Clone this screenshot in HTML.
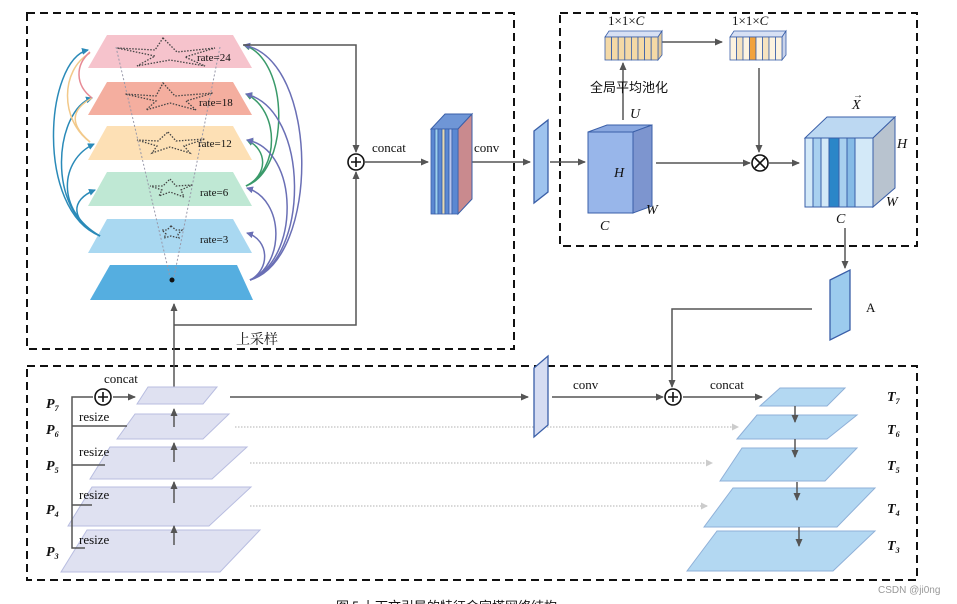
<!DOCTYPE html>
<html><head><meta charset="utf-8"><style>
html,body{margin:0;padding:0;background:#fff;}
svg{display:block;}
text{font-family:"Liberation Serif","Noto Serif CJK SC",serif;fill:#111;}
text.wm{font-family:"Liberation Sans",sans-serif;fill:#999;}
</style></head><body>
<svg width="957" height="604" viewBox="0 0 957 604" xmlns="http://www.w3.org/2000/svg">
<defs>
<marker id="ar" markerWidth="8" markerHeight="8" refX="7" refY="4" orient="auto" markerUnits="userSpaceOnUse"><path d="M0,0.5 L8,4 L0,7.5 z" fill="#555"/></marker>
<marker id="at" markerWidth="7" markerHeight="7" refX="6" refY="3.5" orient="auto" markerUnits="userSpaceOnUse"><path d="M0,0 L7,3.5 L0,7 z" fill="#2a8ab8"/></marker>
<marker id="ap" markerWidth="7" markerHeight="7" refX="6" refY="3.5" orient="auto" markerUnits="userSpaceOnUse"><path d="M0,0 L7,3.5 L0,7 z" fill="#6a6fb5"/></marker>
<marker id="ag" markerWidth="7" markerHeight="7" refX="6" refY="3.5" orient="auto" markerUnits="userSpaceOnUse"><path d="M0,0 L7,3.5 L0,7 z" fill="#3a9a6a"/></marker>
<marker id="ad" markerWidth="7" markerHeight="7" refX="6" refY="3.5" orient="auto" markerUnits="userSpaceOnUse"><path d="M0,0 L7,3.5 L0,7 z" fill="#ccc"/></marker>
</defs>
<g fill="none" stroke="#111" stroke-width="2" stroke-dasharray="8,5">
<rect x="27" y="13" width="487" height="336"/>
<rect x="560" y="13" width="357" height="233"/>
<rect x="27" y="366" width="890" height="214"/>
</g>

<polygon points="107,35 233,35 252,68 88,68" fill="#f6c3cc"/>
<polygon points="107,82 233,82 252,115 88,115" fill="#f4ae9f"/>
<polygon points="107,126 233,126 252,160 88,160" fill="#fde0b5"/>
<polygon points="107,172 233,172 252,206 88,206" fill="#bfe8d4"/>
<polygon points="107,219 233,219 252,253 88,253" fill="#a9d8f1"/>
<polygon points="110,265 237,265 253,300 90,300" fill="#55aee0"/>
<g stroke="#99a" stroke-width="1" stroke-dasharray="2,2" fill="none">
<line x1="116" y1="47" x2="170" y2="277"/><line x1="220" y1="47" x2="174" y2="277"/>
</g>
<g stroke="#444" stroke-width="1.3" stroke-dasharray="1.5,1.5" fill="none">
<polygon points="163,38 177,52 215,48 185,57 205,66 170,60 137,66 155,56 117,48 155,50"/>
<polygon points="163,83 175,96 213,93 186,101 196,110 170,103 146,110 156,101 125,94 156,96"/>
<polygon points="168,132 176,141 205,139 184,146 190,153 170,147 152,153 157,146 137,140 158,141"/>
<polygon points="170,179 176,186 192,185 181,190 184,197 170,192 159,196 162,190 150,186 163,186"/>
<polygon points="171,226 176,230 182,230 178,234 179,238 171,236 164,238 166,234 162,230 167,230"/>
</g>
<circle cx="172" cy="280" r="2.5" fill="#111"/>
<g font-size="11">
<text x="197" y="61">rate=24</text><text x="199" y="106">rate=18</text>
<text x="198" y="147">rate=12</text><text x="200" y="196">rate=6</text><text x="200" y="243">rate=3</text>
</g>
<g fill="none" stroke-width="1.5">
<path d="M100,236 C35,210 45,60 88,50" stroke="#2a8ab8" marker-end="url(#at)"/>
<path d="M100,236 C45,210 55,110 92,98" stroke="#2a8ab8" marker-end="url(#at)"/>
<path d="M100,236 C55,210 60,160 94,144" stroke="#2a8ab8" marker-end="url(#at)"/>
<path d="M100,236 C70,220 70,200 95,190" stroke="#2a8ab8" marker-end="url(#at)"/>
<path d="M90,142 C60,120 60,70 90,53" stroke="#f2c98a"/>
<path d="M90,142 C70,125 70,110 92,98" stroke="#f2c98a"/>
<path d="M92,98 C75,85 75,65 90,52" stroke="#e78a95"/>
<path d="M246,186 C290,170 290,60 244,45" stroke="#3a9a6a" marker-end="url(#ag)"/>
<path d="M246,186 C280,170 280,110 246,94" stroke="#3a9a6a" marker-end="url(#ag)"/>
<path d="M246,186 C268,175 268,150 247,140" stroke="#3a9a6a" marker-end="url(#ag)"/>
<path d="M250,280 C320,260 320,60 244,45" stroke="#6a6fb5" marker-end="url(#ap)"/>
<path d="M250,280 C310,260 310,110 246,94" stroke="#6a6fb5" marker-end="url(#ap)"/>
<path d="M250,280 C300,260 300,150 247,140" stroke="#6a6fb5" marker-end="url(#ap)"/>
<path d="M250,280 C285,265 285,200 247,188" stroke="#6a6fb5" marker-end="url(#ap)"/>
<path d="M250,280 C270,270 270,240 247,233" stroke="#6a6fb5" marker-end="url(#ap)"/>
</g>

<g stroke="#555" stroke-width="1.5" fill="none">
<line x1="174" y1="395" x2="174" y2="304" marker-end="url(#ar)"/>
<polyline points="174,325 356,325 356,172" marker-end="url(#ar)"/>
<polyline points="243,45 356,45 356,152" marker-end="url(#ar)"/>
<line x1="365" y1="162" x2="428" y2="162" marker-end="url(#ar)"/>
<line x1="472" y1="162" x2="530" y2="162" marker-end="url(#ar)"/>
<line x1="550" y1="162" x2="585" y2="162" marker-end="url(#ar)"/>
</g>
<circle cx="356" cy="162" r="8" fill="#fff" stroke="#111" stroke-width="1.6"/>
<path d="M351,162 h10 M356,157 v10" stroke="#111" stroke-width="1.6"/>
<text x="372" y="152" font-size="13">concat</text>
<text x="474" y="152" font-size="13">conv</text>
<text x="236" y="344" font-size="14">上采样</text>
<polygon points="431,129 445,114 472,114 458,129" fill="#6f96d6" stroke="#3a5fa8"/>
<polygon points="458,129 472,114 472,199 458,214" fill="#c98a8e" stroke="#3a5fa8"/>
<g stroke="#3a5fa8" stroke-width="0.8">
<rect x="431" y="129" width="4" height="85" fill="#5b88d2"/><rect x="435" y="129" width="3" height="85" fill="#9cd0ee"/>
<rect x="438" y="129" width="4" height="85" fill="#5b88d2"/><rect x="442" y="129" width="3" height="85" fill="#e6d9b0"/>
<rect x="445" y="129" width="4" height="85" fill="#5b88d2"/><rect x="449" y="129" width="3" height="85" fill="#b7c6ee"/>
<rect x="452" y="129" width="6" height="85" fill="#5b88d2"/>
</g>
<polygon points="534,131 548,120 548,192 534,203" fill="#9ec3ee" stroke="#3a5fa8" stroke-width="1.3"/>

<polygon points="588,132 607,125 652,125 633,132" fill="#8aa8e0" stroke="#3a5fa8"/>
<polygon points="633,132 652,125 652,206 633,213" fill="#7d95cf" stroke="#3a5fa8"/>
<rect x="588" y="132" width="45" height="81" fill="#98b6ea" stroke="#3a5fa8"/>
<g font-style="italic" font-size="14">
<text x="614" y="177">H</text><text x="646" y="214">W</text><text x="600" y="230">C</text><text x="630" y="118">U</text>
<text x="897" y="148">H</text><text x="886" y="206">W</text><text x="836" y="223">C</text><text x="852" y="109">X</text>
</g>
<text x="853" y="98" font-size="10">→</text>
<g stroke="#555" stroke-width="1.5" fill="none">
<line x1="623" y1="120" x2="623" y2="63" marker-end="url(#ar)"/>
<line x1="659" y1="42" x2="722" y2="42" marker-end="url(#ar)"/>
<line x1="759" y1="68" x2="759" y2="152" marker-end="url(#ar)"/>
<line x1="656" y1="163" x2="750" y2="163" marker-end="url(#ar)"/>
<line x1="769" y1="163" x2="799" y2="163" marker-end="url(#ar)"/>
<line x1="845" y1="228" x2="845" y2="268" marker-end="url(#ar)"/>
<polyline points="812,309 672,309 672,387" marker-end="url(#ar)"/>
</g>
<circle cx="760" cy="163" r="8" fill="#fff" stroke="#111" stroke-width="1.6"/>
<path d="M755,158 l10,10 M765,158 l-10,10" stroke="#111" stroke-width="1.6"/>
<text x="608" y="25" font-size="13">1×1×<tspan font-style="italic">C</tspan></text>
<text x="732" y="25" font-size="13">1×1×<tspan font-style="italic">C</tspan></text>
<text x="590" y="92" font-size="13" style="font-family:'Noto Sans CJK SC',sans-serif">全局平均池化</text>
<polygon points="605,37 609,31 662,31 658,37" fill="#d7e0f4" stroke="#3a5fa8" stroke-width="0.8"/>
<polygon points="658,37 662,31 662,55 658,60" fill="#e2c89a" stroke="#3a5fa8" stroke-width="0.8"/>
<g stroke="#3a5fa8" stroke-width="0.8" fill="#f4d9a6">
<rect x="605" y="37" width="6.6" height="23"/><rect x="611.6" y="37" width="6.6" height="23"/><rect x="618.2" y="37" width="6.6" height="23"/><rect x="624.8" y="37" width="6.6" height="23"/><rect x="631.4" y="37" width="6.6" height="23"/><rect x="638" y="37" width="6.6" height="23"/><rect x="644.6" y="37" width="6.6" height="23"/><rect x="651.2" y="37" width="6.8" height="23"/>
</g>
<polygon points="730,37 734,31 786,31 782,37" fill="#d7e0f4" stroke="#3a5fa8" stroke-width="0.8"/>
<polygon points="782,37 786,31 786,55 782,60" fill="#c9d3ea" stroke="#3a5fa8" stroke-width="0.8"/>
<g stroke="#3a5fa8" stroke-width="0.8">
<rect x="730" y="37" width="6.5" height="23" fill="#fdf3e0"/><rect x="736.5" y="37" width="6.5" height="23" fill="#f6e3c0"/><rect x="743" y="37" width="6.5" height="23" fill="#fdf3e0"/><rect x="749.5" y="37" width="6.5" height="23" fill="#f2a23a"/><rect x="756" y="37" width="6.5" height="23" fill="#fdf3e0"/><rect x="762.5" y="37" width="6.5" height="23" fill="#f6e3c0"/><rect x="769" y="37" width="6.5" height="23" fill="#fdf3e0"/><rect x="775.5" y="37" width="6.5" height="23" fill="#fdf3e0"/>
</g>
<polygon points="805,138 827,117 895,117 873,138" fill="#bcd8f2" stroke="#3a5fa8"/>
<polygon points="873,138 895,117 895,188 873,207" fill="#b8c3cf" stroke="#3a5fa8"/>
<g stroke="#3a5fa8" stroke-width="1">
<rect x="805" y="138" width="8" height="69" fill="#d3e9f8"/><rect x="813" y="138" width="8" height="69" fill="#a8d0ef"/>
<rect x="821" y="138" width="8" height="69" fill="#d3e9f8"/><rect x="829" y="138" width="10" height="69" fill="#2b86c8"/>
<rect x="839" y="138" width="8" height="69" fill="#a8d0ef"/><rect x="847" y="138" width="8" height="69" fill="#86bbe6"/>
<rect x="855" y="138" width="18" height="69" fill="#d3e9f8"/>
</g>
<polygon points="830,280 850,270 850,330 830,340" fill="#9ccbee" stroke="#3a5fa8" stroke-width="1.3"/>
<text x="866" y="312" font-size="13">A</text>

<g fill="#dfe1f1" stroke="#b8bde0" stroke-width="1">
<polygon points="61,572 87,530 260,530 220,572"/>
<polygon points="68,526 92,487 251,487 209,526"/>
<polygon points="90,479 110,447 247,447 212,479"/>
<polygon points="117,439 135,414 229,414 203,439"/>
<polygon points="137,404 148,387 217,387 203,404"/>
</g>
<g fill="#b3d8f2" stroke="#8fb0d8" stroke-width="1">
<polygon points="687,571 717,531 875,531 833,571"/>
<polygon points="704,527 733,488 875,488 837,527"/>
<polygon points="720,481 742,448 857,448 825,481"/>
<polygon points="737,439 757,415 857,415 827,439"/>
<polygon points="760,406 780,388 845,388 827,406"/>
</g>
<g stroke="#555" stroke-width="1.5" fill="none">
<polyline points="85,548 72,548 72,397 93,397"/>
<line x1="72" y1="426" x2="127" y2="426"/><line x1="72" y1="465" x2="105" y2="465"/><line x1="72" y1="505" x2="92" y2="505"/>
<line x1="113" y1="397" x2="135" y2="397" marker-end="url(#ar)"/>
<line x1="174" y1="545" x2="174" y2="526" marker-end="url(#ar)"/>
<line x1="174" y1="503" x2="174" y2="482" marker-end="url(#ar)"/>
<line x1="174" y1="462" x2="174" y2="443" marker-end="url(#ar)"/>
<line x1="174" y1="427" x2="174" y2="409" marker-end="url(#ar)"/>
<line x1="230" y1="397" x2="528" y2="397" marker-end="url(#ar)"/>
<line x1="552" y1="397" x2="663" y2="397" marker-end="url(#ar)"/>
<line x1="683" y1="397" x2="762" y2="397" marker-end="url(#ar)"/>
<line x1="795" y1="406" x2="795" y2="422" marker-end="url(#ar)"/>
<line x1="795" y1="439" x2="795" y2="457" marker-end="url(#ar)"/>
<line x1="797" y1="482" x2="797" y2="500" marker-end="url(#ar)"/>
<line x1="799" y1="527" x2="799" y2="546" marker-end="url(#ar)"/>
</g>
<g stroke="#ccc" stroke-width="1.5" stroke-dasharray="1.5,1.5" fill="none">
<line x1="235" y1="427" x2="738" y2="427" marker-end="url(#ad)"/>
<line x1="250" y1="463" x2="712" y2="463" marker-end="url(#ad)"/>
<line x1="250" y1="506" x2="707" y2="506" marker-end="url(#ad)"/>
</g>
<polygon points="534,368 548,356 548,425 534,437" fill="#d5dcf2" stroke="#3a5fa8" stroke-width="1.3"/>
<circle cx="103" cy="397" r="8" fill="#fff" stroke="#111" stroke-width="1.6"/>
<path d="M98,397 h10 M103,392 v10" stroke="#111" stroke-width="1.6"/>
<circle cx="673" cy="397" r="8" fill="#fff" stroke="#111" stroke-width="1.6"/>
<path d="M668,397 h10 M673,392 v10" stroke="#111" stroke-width="1.6"/>
<g font-size="13">
<text x="104" y="383">concat</text><text x="573" y="389">conv</text><text x="710" y="389">concat</text>
<text x="79" y="421">resize</text><text x="79" y="456">resize</text><text x="79" y="499">resize</text><text x="79" y="544">resize</text>
</g>
<g font-size="14" font-weight="bold" font-style="italic">
<text x="46" y="408">P<tspan font-size="8" dy="3">7</tspan></text>
<text x="46" y="434">P<tspan font-size="8" dy="3">6</tspan></text>
<text x="46" y="470">P<tspan font-size="8" dy="3">5</tspan></text>
<text x="46" y="514">P<tspan font-size="8" dy="3">4</tspan></text>
<text x="46" y="556">P<tspan font-size="8" dy="3">3</tspan></text>
<text x="887" y="401">T<tspan font-size="8" dy="3">7</tspan></text>
<text x="887" y="434">T<tspan font-size="8" dy="3">6</tspan></text>
<text x="887" y="470">T<tspan font-size="8" dy="3">5</tspan></text>
<text x="887" y="513">T<tspan font-size="8" dy="3">4</tspan></text>
<text x="887" y="550">T<tspan font-size="8" dy="3">3</tspan></text>
</g>
<text class="wm" x="878" y="593" font-size="10">CSDN @ji0ng</text>
<text x="336" y="611" font-size="13" style="font-family:'Noto Sans CJK SC',sans-serif">图 5 上下文引导的特征金字塔网络结构</text>
</svg>
</body></html>
